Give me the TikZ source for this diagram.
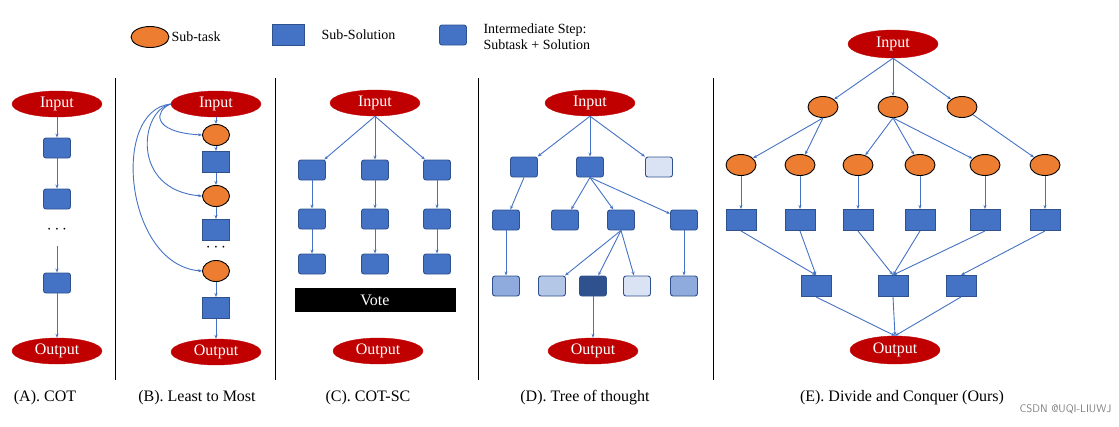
\documentclass[tikz,border=0pt]{standalone}
\usepackage{fontspec}
\setmainfont{Liberation Serif}
\usetikzlibrary{arrows.meta,shapes.geometric}
\definecolor{inred}{HTML}{C00000}
\definecolor{stepblue}{HTML}{4472C4}
\definecolor{edgeblue}{HTML}{2F528F}
\definecolor{taskorange}{HTML}{ED7D31}
\tikzset{
  io/.style={ellipse,fill=inred,draw=inred,text=white,minimum width=90pt,minimum height=26pt,inner sep=0pt,font=\fontsize{16}{16}\selectfont},
  task/.style={ellipse,fill=taskorange,draw=black,line width=0.9pt,minimum width=27pt,minimum height=21pt,inner sep=0pt},
  sol/.style={rectangle,fill=stepblue,draw=edgeblue,line width=0.9pt,minimum width=27pt,minimum height=21pt,inner sep=0pt},
  step/.style={rectangle,rounded corners=2.5pt,fill=#1,draw=edgeblue,line width=0.9pt,minimum width=27pt,minimum height=20pt,inner sep=0pt},
  step/.default=stepblue,
  link/.style={draw=stepblue,line width=0.9pt,-{Stealth[length=4pt,width=3pt]}},
  sep/.style={draw=black,line width=1pt},
  caption/.style={font=\fontsize{16}{16}\selectfont},
  dots/.style={font=\fontsize{18}{18}\bfseries\selectfont}
}
\begin{document}
\begin{tikzpicture}[x=1pt,y=-1pt]
\useasboundingbox (0,0) rectangle (1119,426);

% legend
\node[task,minimum width=38pt] (lt) at (150,37) {};
\node[anchor=west,font=\fontsize{14}{14}\selectfont] (ltx) at (168,37) {Sub-task};
\node[sol,minimum width=32pt] (ls) at (288,35) {};
\node[anchor=west,font=\fontsize{14}{14}\selectfont] (lsx) at (318,35) {Sub-Solution};
\node[step] (li) at (453,35) {};
\node[anchor=west,align=left,font=\fontsize{14}{16}\selectfont] (lix) at (480,37) {Intermediate Step:\\Subtask + Solution};

% separators
\coordinate (s1a) at (115,78); \coordinate (s1b) at (115,380);
\coordinate (s2a) at (275,78); \coordinate (s2b) at (275,380);
\coordinate (s3a) at (478,78); \coordinate (s3b) at (478,380);
\coordinate (s4a) at (713,78); \coordinate (s4b) at (713,380);
\draw[sep] (s1a) -- (s1b);
\draw[sep] (s2a) -- (s2b);
\draw[sep] (s3a) -- (s3b);
\draw[sep] (s4a) -- (s4b);

% (A) COT
\node[io] (ainput) at (57,104) {Input};
\node[step] (a1) at (57,148) {};
\node[step] (a2) at (57,199) {};
\node[dots] (adots) at (57,230) {$\cdots$};
\coordinate (adotsb) at (57,246);
\node[step] (a3) at (57,283) {};
\node[io] (aoutput) at (57,351) {Output};
\draw[link] (ainput) -- (a1);
\draw[link] (a1) -- (a2);
\draw[link] (adotsb) -- (a3);
\draw[link] (a3) -- (aoutput);

% (B) Least to Most
\node[io] (binput) at (216,104) {Input};
\node[task] (bt1) at (216,135) {};
\node[sol] (bs1) at (216,162) {};
\node[task] (bt2) at (216,196) {};
\node[sol] (bs2) at (216,230) {};
\node[dots] (bdots) at (216,248) {$\cdots$};
\node[task] (bt3) at (216,271) {};
\node[sol] (bs3) at (216,308) {};
\node[io] (boutput) at (216,352) {Output};
\draw[link] (binput) -- (bt1);
\draw[link] (bt1) -- (bs1);
\draw[link] (bs1) -- (bt2);
\draw[link] (bt2) -- (bs2);
\draw[link] (bt3) -- (bs3);
\draw[link] (bs3) -- (boutput);
\draw[link] (binput.west) .. controls (155,110) and (150,132) .. (bt1.west);
\draw[link] (binput.west) .. controls (140,110) and (130,190) .. (bt2.west);
\draw[link] (binput.west) .. controls (110,110) and (125,265) .. (bt3.west);

% (C) COT-SC
\node[io] (cinput) at (375,103) {Input};
\foreach \c/\x in {a/312,b/375,c/437}{
  \node[step] (c\c1) at (\x,170) {};
  \node[step] (c\c2) at (\x,219) {};
  \node[step] (c\c3) at (\x,264) {};
  \draw[link] (cinput.south) -- (c\c1);
  \draw[link] (c\c1) -- (c\c2);
  \draw[link] (c\c2) -- (c\c3);
}
\node[fill=black,text=white,minimum width=161pt,minimum height=24pt,inner sep=0pt,caption] (cvote) at (375,300) {Vote};
\node[io] (coutput) at (378,351) {Output};

% (D) Tree of thought
\node[io] (dinput) at (590,103) {Input};
\node[step] (d11) at (524,167) {};
\node[step] (d12) at (590,167) {};
\node[step=stepblue!20] (d13) at (659,167) {};
\node[step] (d21) at (506,220) {};
\node[step] (d22) at (565,220) {};
\node[step] (d23) at (621,220) {};
\node[step] (d24) at (684,220) {};
\node[step=stepblue!60] (d31) at (506,286) {};
\node[step=stepblue!40] (d32) at (552,286) {};
\node[step=edgeblue] (d33) at (593,286) {};
\node[step=stepblue!20] (d34) at (637,286) {};
\node[step=stepblue!60] (d35) at (684,286) {};
\node[io] (doutput) at (593,351) {Output};
\draw[link] (dinput.south) -- (d11);
\draw[link] (dinput.south) -- (d12);
\draw[link] (dinput.south) -- (d13);
\draw[link] (d11.south) -- (d21);
\draw[link] (d12.south) -- (d22);
\draw[link] (d12.south) -- (d23);
\draw[link] (d12.south) -- (d24);
\draw[link] (d21) -- (d31);
\draw[link] (d23.south) -- (d32);
\draw[link] (d23.south) -- (d33);
\draw[link] (d23.south) -- (d34);
\draw[link] (d24) -- (d35);
\draw[link] (d33) -- (doutput);

% (E) Divide and Conquer
\node[io,minimum height=28pt] (einput) at (893,44) {Input};
\node[task,minimum width=30pt] (e11) at (823,107) {};
\node[task,minimum width=30pt] (e12) at (893,107) {};
\node[task,minimum width=30pt] (e13) at (962,107) {};
\foreach \i/\x in {1/741,2/800,3/858,4/920,5/985,6/1045}{
  \node[task,minimum width=30pt] (e2\i) at (\x,165) {};
  \node[sol,minimum width=30pt] (e3\i) at (\x,220) {};
  \draw[link] (e2\i) -- (e3\i);
}
\node[sol,minimum width=30pt] (e41) at (816,286) {};
\node[sol,minimum width=30pt] (e42) at (893,286) {};
\node[sol,minimum width=30pt] (e43) at (961,286) {};
\node[io,minimum height=28pt] (eoutput) at (895,350) {Output};
\draw[link] (einput.south) -- (e11);
\draw[link] (einput.south) -- (e12);
\draw[link] (einput.south) -- (e13);
\draw[link] (e11.south) -- (e21);
\draw[link] (e11.south) -- (e22);
\draw[link] (e12.south) -- (e23);
\draw[link] (e12.south) -- (e24);
\draw[link] (e12.south) -- (e25);
\draw[link] (e13) -- (e26);
\draw[link] (e31.south) -- (e41.north);
\draw[link] (e32.south) -- (e41.north);
\draw[link] (e33.south) -- (e42.north);
\draw[link] (e34.south) -- (e42.north);
\draw[link] (e35.south) -- (e42.north);
\draw[link] (e36.south) -- (e43.north);
\draw[link] (e41.south) -- (eoutput.north);
\draw[link] (e42.south) -- (eoutput.north);
\draw[link] (e43.south) -- (eoutput.north);

% captions
\node[caption] (acap) at (45,398) {(A). COT};
\node[caption] (bcap) at (197,398) {(B). Least to Most};
\node[caption] (ccap) at (368,398) {(C). COT-SC};
\node[caption] (dcap) at (585,398) {(D). Tree of thought};
\node[caption] (ecap) at (902,398) {(E). Divide and Conquer (Ours)};
\node[text=gray,font=\fontsize{11}{11}\sffamily\selectfont,anchor=east] (mark) at (1115,409) {CSDN @UQI-LIUWJ};
\end{tikzpicture}
\end{document}
